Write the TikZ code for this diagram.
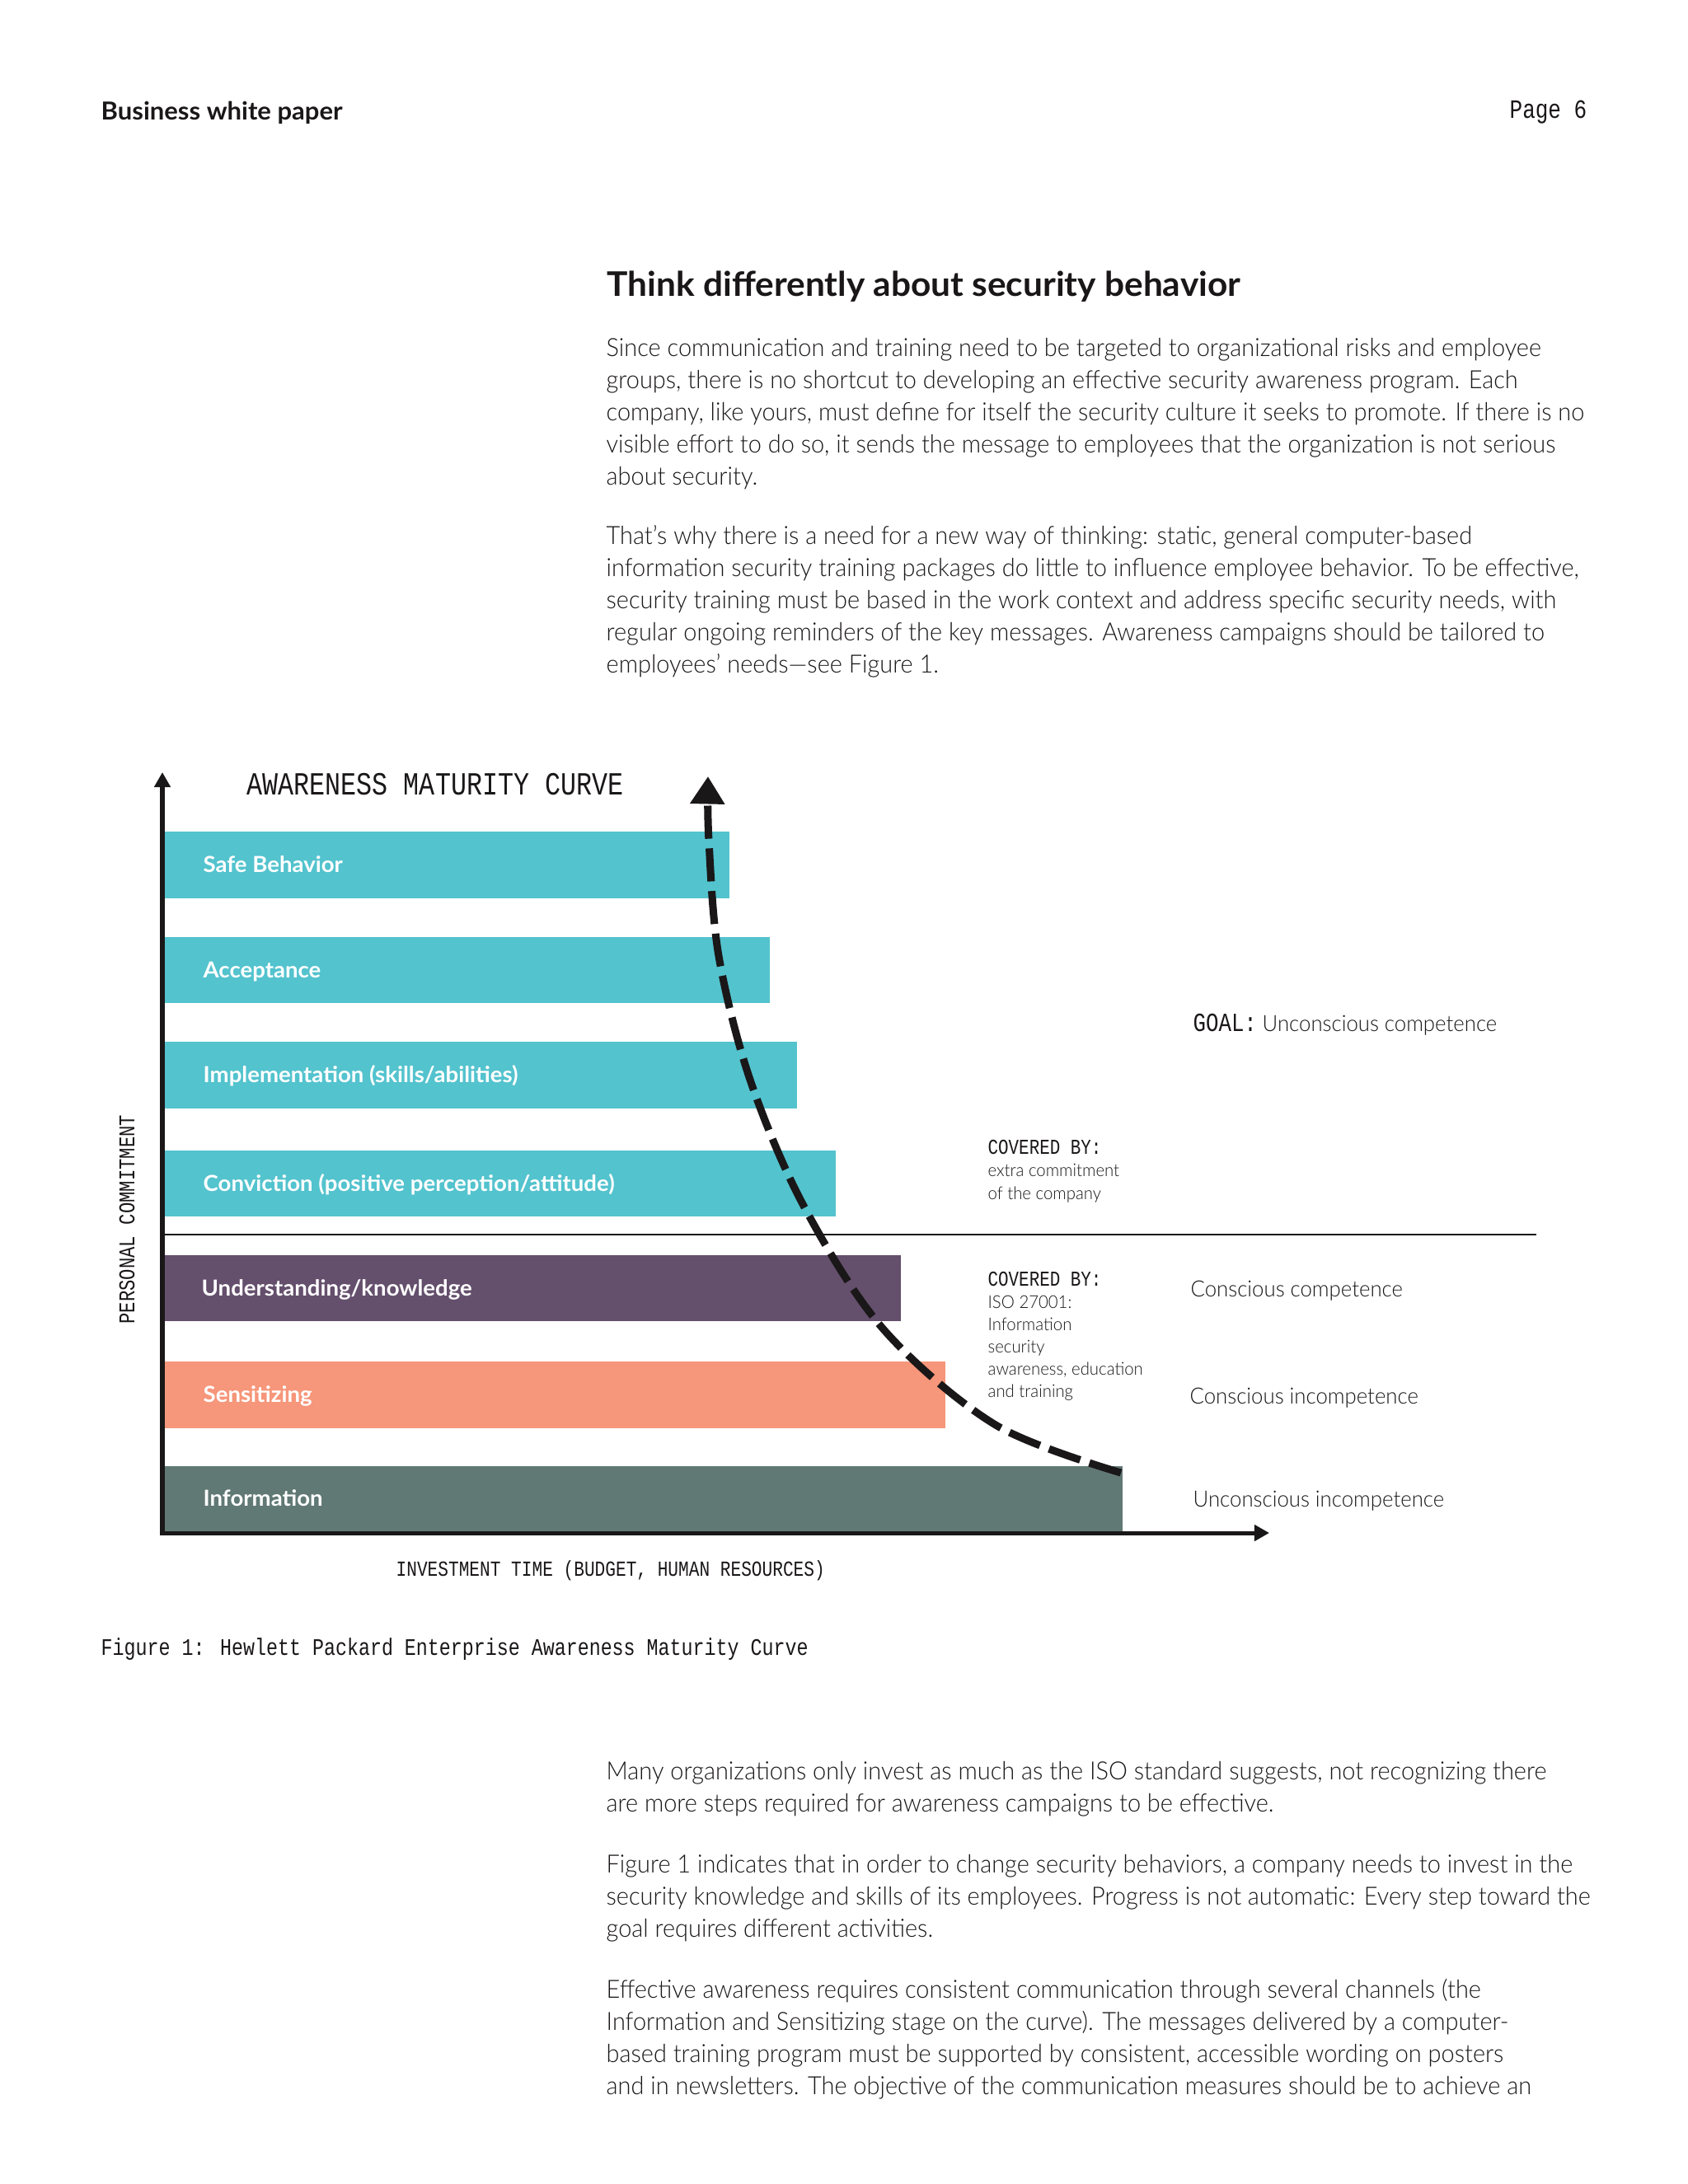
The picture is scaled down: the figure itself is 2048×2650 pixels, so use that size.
\documentclass[tikz,border=0pt]{standalone}
\usepackage{fontspec}
\setmainfont{Lato}[FakeStretch=0.93]
\newfontface\lightfont{Lato Light}[FakeStretch=0.95]
\newfontfamily\headfont{Lato}[FakeStretch=1.03]
\newfontfamily\hpemono{Liberation Mono}[FakeStretch=0.81]
\usetikzlibrary{arrows.meta}

\definecolor{tealbar}{HTML}{53C3CE}
\definecolor{plumbar}{HTML}{644F6C}
\definecolor{salmonbar}{HTML}{F6967A}
\definecolor{slatebar}{HTML}{617975}
\definecolor{ink}{HTML}{1A1718}

\begin{document}
\begin{tikzpicture}[x=0.29883pt, y=-0.29883pt, line join=round, text=ink,
    txt/.style={anchor=base west, inner sep=0pt},
    body/.style={txt, font=\lightfont\fontsize{9.1}{11}\selectfont},
    barlabel/.style={txt, text=white, font=\headfont\bfseries\fontsize{8}{9}\selectfont},
    stage/.style={txt, font=\lightfont\fontsize{8.1}{9}\selectfont},
    note/.style={txt, font=\lightfont\fontsize{6.4}{8}\selectfont},
    mono/.style={txt, font=\hpemono\fontsize{#1}{#1}\selectfont},
    axis/.style={ink, line width=1.5pt, line join=miter, {Triangle[length=5.4pt,width=5.7pt]}-{Triangle[length=5.4pt,width=5.7pt]}},
    curve/.style={ink, line width=2.7pt, dash pattern=on 12pt off 3.5pt, -{Triangle[length=10pt,width=12pt]}}]
    \useasboundingbox[fill=white] (0,0) rectangle (2048,2650);
    \def\barx{199}

    % header
    \node[txt, font=\headfont\bfseries\fontsize{9}{11}\selectfont] (header) at (122,145) {Business white paper};
    \node[mono=9.6, anchor=base east] (pageno) at (1926,143) {Page 6};
    \node[txt, font=\headfont\bfseries\fontsize{12.3}{14}\selectfont] (title) at (736,359) {Think differently about security behavior};

    % text above the figure
    \node[body] (pa1) at (735,432) {Since communication and training need to be targeted to organizational risks and employee};
    \node[body] (pa2) at (735,471) {groups, there is no shortcut to developing an effective security awareness program. Each};
    \node[body] (pa3) at (735,510) {company, like yours, must define for itself the security culture it seeks to promote. If there is no};
    \node[body] (pa4) at (735,549) {visible effort to do so, it sends the message to employees that the organization is not serious};
    \node[body] (pa5) at (735,588) {about security.};
    \node[body] (pb1) at (735,660) {That’s why there is a need for a new way of thinking: static, general computer-based};
    \node[body] (pb2) at (735,699) {information security training packages do little to influence employee behavior. To be effective,};
    \node[body] (pb3) at (735,738) {security training must be based in the work context and address specific security needs, with};
    \node[body] (pb4) at (735,777) {regular ongoing reminders of the key messages. Awareness campaigns should be tailored to};
    \node[body] (pb5) at (735,816) {employees’ needs—see Figure 1.};

    % bars
    \fill[tealbar] (\barx,1009) rectangle (885,1090);
    \fill[tealbar] (\barx,1137) rectangle (934,1217);
    \fill[tealbar] (\barx,1264) rectangle (967,1345);
    \fill[tealbar] (\barx,1396) rectangle (1014,1476);
    \fill[plumbar] (\barx,1523) rectangle (1093,1603);
    \fill[salmonbar] (\barx,1652) rectangle (1147,1733);
    \fill[slatebar] (\barx,1779) rectangle (1362,1858);
    \node[barlabel] (safe) at (246,1058) {Safe Behavior};
    \node[barlabel] (accept) at (246,1186) {Acceptance};
    \node[barlabel] (implement) at (246,1313) {Implementation (skills/abilities)};
    \node[barlabel] (conviction) at (246,1445) {Conviction (positive perception/attitude)};
    \node[barlabel] (understand) at (244,1572) {Understanding/knowledge};
    \node[barlabel] (sensitize) at (246,1701) {Sensitizing};
    \node[barlabel] (inform) at (246,1827) {Information};

    % axes and divider
    \coordinate (origin) at (197,1860);
    \coordinate (ytip) at (197,937);
    \coordinate (xtip) at (1540,1860);
    \draw[axis] (ytip) -- (origin) -- (xtip);
    \coordinate (divl) at (\barx,1498);
    \coordinate (divr) at (1864,1498);
    \draw[ink, line width=0.6pt] (divl) -- (divr);

    \node[mono=11.7] (charttitle) at (299,964) {AWARENESS MATURITY CURVE};
    \node[mono=8.2, rotate=90] (ylabel) at (163,1607) {PERSONAL COMMITMENT};
    \node[mono=7.8] (xlabel) at (480,1912) {INVESTMENT TIME (BUDGET, HUMAN RESOURCES)};

    % maturity curve
    \coordinate (curvefoot) at (1360,1787);
    \coordinate (curvetip) at (859,942);
    \draw[curve] plot[smooth, tension=0.55] coordinates {(curvefoot) (1208,1729) (1072,1613) (975,1463) (910,1310) (872,1160) (860,1020) (curvetip)};

    % notes
    \node[mono=7.7] (cover1) at (1198,1400) {COVERED BY:};
    \node[note] (cover1a) at (1198,1427) {extra commitment};
    \node[note] (cover1b) at (1198,1455) {of the company};
    \node[mono=7.7] (cover2) at (1198,1560) {COVERED BY:};
    \node[note] (cover2a) at (1198,1587) {ISO 27001:};
    \node[note] (cover2b) at (1198,1614) {Information};
    \node[note] (cover2c) at (1198,1641) {security};
    \node[note] (cover2d) at (1198,1668) {awareness, education};
    \node[note] (cover2e) at (1198,1695) {and training};

    \node[mono=9.5] (goal) at (1447,1251) {GOAL:};
    \node[stage] (goaltext) at (1531,1251) {Unconscious competence};
    \node[stage] (concomp) at (1444,1573) {Conscious competence};
    \node[stage] (conincomp) at (1443,1703) {Conscious incompetence};
    \node[stage] (unconincomp) at (1447,1828) {Unconscious incompetence};

    \node[mono=8.6] (caption) at (122,2008) {Figure 1: Hewlett Packard Enterprise Awareness Maturity Curve};

    % text below the figure
    \node[body] (pc1) at (735,2159) {Many organizations only invest as much as the ISO standard suggests, not recognizing there};
    \node[body] (pc2) at (735,2198) {are more steps required for awareness campaigns to be effective.};
    \node[body] (pd1) at (735,2272) {Figure 1 indicates that in order to change security behaviors, a company needs to invest in the};
    \node[body] (pd2) at (735,2311) {security knowledge and skills of its employees. Progress is not automatic: Every step toward the};
    \node[body] (pd3) at (735,2350) {goal requires different activities.};
    \node[body] (pe1) at (735,2424) {Effective awareness requires consistent communication through several channels (the};
    \node[body] (pe2) at (735,2463) {Information and Sensitizing stage on the curve). The messages delivered by a computer-};
    \node[body] (pe3) at (735,2502) {based training program must be supported by consistent, accessible wording on posters};
    \node[body] (pe4) at (735,2541) {and in newsletters. The objective of the communication measures should be to achieve an};
\end{tikzpicture}
\end{document}
